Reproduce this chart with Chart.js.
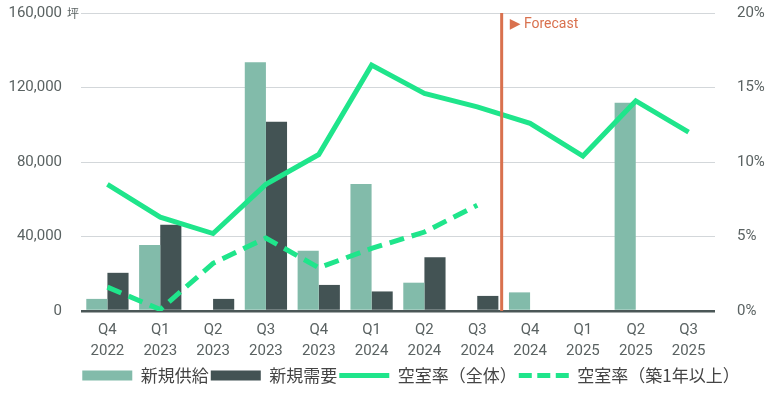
<!DOCTYPE html>
<html>
<head>
<meta charset="utf-8">
<script src="https://cdn.jsdelivr.net/npm/chart.js@4.4.0/dist/chart.umd.min.js"></script>
<style>
  html, body { margin: 0; padding: 0; background: #fff; }
  #wrap { width: 768px; height: 401px; position: relative; }
</style>
</head>
<body>
<div id="wrap"><canvas id="chart"></canvas></div>
<script>
// ── Data ────────────────────────────────────────────────────
const quarters = ['Q4', 'Q1', 'Q2', 'Q3', 'Q4', 'Q1', 'Q2', 'Q3', 'Q4', 'Q1', 'Q2', 'Q3'];
const years    = ['2022', '2023', '2023', '2023', '2023', '2024', '2024', '2024', '2024', '2025', '2025', '2025'];
const newSupply = [6500, 35500, null, 133500, 32300, 68200, 15200, null, 10000, null, 111800, null];
const newDemand = [20500, 46300, 6500, 101600, 14000, 10500, 28800, 8100, null, null, null, null];
const vacancyAll = [8.5, 6.3, 5.2, 8.5, 10.5, 16.5, 14.6, 13.7, 12.6, 10.4, 14.1, 12.0];
const vacancyOld = [1.6, 0.1, 3.2, 4.9, 2.9, 4.2, 5.3, 7.1, null, null, null, null];
const leftTicks  = [0, 40000, 80000, 120000, 160000];
const rightTicks = [0, 5, 10, 15, 20];
const lastActual = 7;   // Q3 2024, forecast starts after it

// ── Colors ──────────────────────────────────────────────────
const COLORS = {
    supply: '#82bbaa',
    demand: '#435354',
    vacancy: '#1fe58b',
    forecast: '#d9714e',
    grid: '#d3d7da',
    base: '#4b5757',
    text: '#5a6262',
};

const FONT = "Roboto, 'Noto Sans', sans-serif";
const CJK = "'Noto Sans CJK JP', 'Noto Sans', sans-serif";

// ── Forecast marker + unit label ────────────────────────────
const extras = {
    id: 'extras',
    beforeDraw(chart) {
        // legend sits a little right of centre in the original
        const lg = chart.legend;
        if (lg && !lg._shifted) { lg.left += 27; lg.right += 27; lg._shifted = true; }
    },
    afterDatasetsDraw(chart) {
        const { ctx, chartArea, scales } = chart;
        const x = (scales.x.getPixelForValue(lastActual) + scales.x.getPixelForValue(lastActual + 1)) / 2 - 2;
        ctx.save();
        ctx.strokeStyle = COLORS.forecast;
        ctx.lineWidth = 3;
        ctx.beginPath();
        ctx.moveTo(x, chartArea.top);
        ctx.lineTo(x, chartArea.bottom);
        ctx.stroke();

        ctx.fillStyle = COLORS.forecast;
        ctx.font = "14px Roboto, 'DejaVu Sans', sans-serif";
        ctx.textBaseline = 'middle';
        ctx.fillText('▶ Forecast', x + 8, chartArea.top + 11);

        ctx.fillStyle = COLORS.text;
        ctx.font = "12px " + CJK;
        ctx.fillText('坪', scales.y.right - 14, scales.y.getPixelForValue(leftTicks[leftTicks.length - 1]));
        ctx.restore();
    },
};

new Chart(document.getElementById('chart'), {
    data: {
        labels: quarters.map((q, i) => [q, years[i]]),
        datasets: [
            { type: 'bar', label: '新規供給', data: newSupply, backgroundColor: COLORS.supply, yAxisID: 'y', order: 2 },
            { type: 'bar', label: '新規需要', data: newDemand, backgroundColor: COLORS.demand, yAxisID: 'y', order: 2 },
            {
                type: 'line', label: '空室率（全体）', data: vacancyAll, yAxisID: 'y1', order: 1,
                borderColor: COLORS.vacancy, borderWidth: 5, pointRadius: 0, tension: 0, fill: false,
            },
            {
                type: 'line', label: '空室率（築1年以上）', data: vacancyOld, yAxisID: 'y1', order: 1,
                borderColor: COLORS.vacancy, borderWidth: 5, borderDash: [15, 8], pointRadius: 0, tension: 0, fill: false,
            },
        ],
    },
    options: {
        responsive: true,
        maintainAspectRatio: false,
        animation: false,
        layout: { padding: { top: 0, bottom: 7 } },
        datasets: { bar: { categoryPercentage: 0.8, barPercentage: 1.0 } },
        scales: {
            x: {
                grid: { display: false },
                border: { display: false },
                afterFit: s => { s.height = 54; },
                ticks: { color: COLORS.text, font: { family: FONT, size: 15, lineHeight: 1.45 }, padding: 0, maxRotation: 0, autoSkip: false },
            },
            y: {
                position: 'left',
                min: 0, max: 160000,
                afterBuildTicks: s => { s.ticks = leftTicks.map(v => ({ value: v })); },
                afterFit: s => { s.width = 81; s.paddingTop = 13; },
                border: { display: false },
                grid: {
                    drawTicks: false,
                    color: c => c.tick.value === 0 ? COLORS.base : COLORS.grid,
                    lineWidth: c => c.tick.value === 0 ? 2.5 : 1,
                },
                ticks: {
                    color: COLORS.text, font: { family: FONT, size: 15 }, padding: 19,
                    callback: v => v.toLocaleString('en-US'),
                },
            },
            y1: {
                position: 'right',
                min: 0, max: 20,
                afterBuildTicks: s => { s.ticks = rightTicks.map(v => ({ value: v })); },
                afterFit: s => { s.width = 53; s.paddingTop = 13; },
                border: { display: false },
                grid: { display: false },
                ticks: { color: COLORS.text, font: { family: FONT, size: 15 }, padding: 14, callback: v => v + '%' },
            },
        },
        plugins: {
            tooltip: { enabled: false },
            legend: {
                position: 'bottom',
                labels: {
                    usePointStyle: true,
                    pointStyleWidth: 50,
                    boxHeight: 10,
                    padding: 2,
                    color: '#444',
                    font: { family: CJK, size: 17 },
                    generateLabels(chart) {
                        return chart.data.datasets.map((ds, i) => ({
                            text: ds.label,
                            datasetIndex: i,
                            fillStyle: ds.type === 'line' ? ds.borderColor : ds.backgroundColor,
                            strokeStyle: ds.type === 'line' ? ds.borderColor : ds.backgroundColor,
                            lineWidth: ds.type === 'line' ? 5 : 0,
                            lineDash: ds.borderDash ? [13, 5.5] : [],
                            pointStyle: ds.type === 'line' ? 'line' : 'rect',
                            fontColor: '#444',
                            hidden: false,
                        }));
                    },
                },
            },
        },
    },
    plugins: [extras],
});
</script>
</body>
</html>
